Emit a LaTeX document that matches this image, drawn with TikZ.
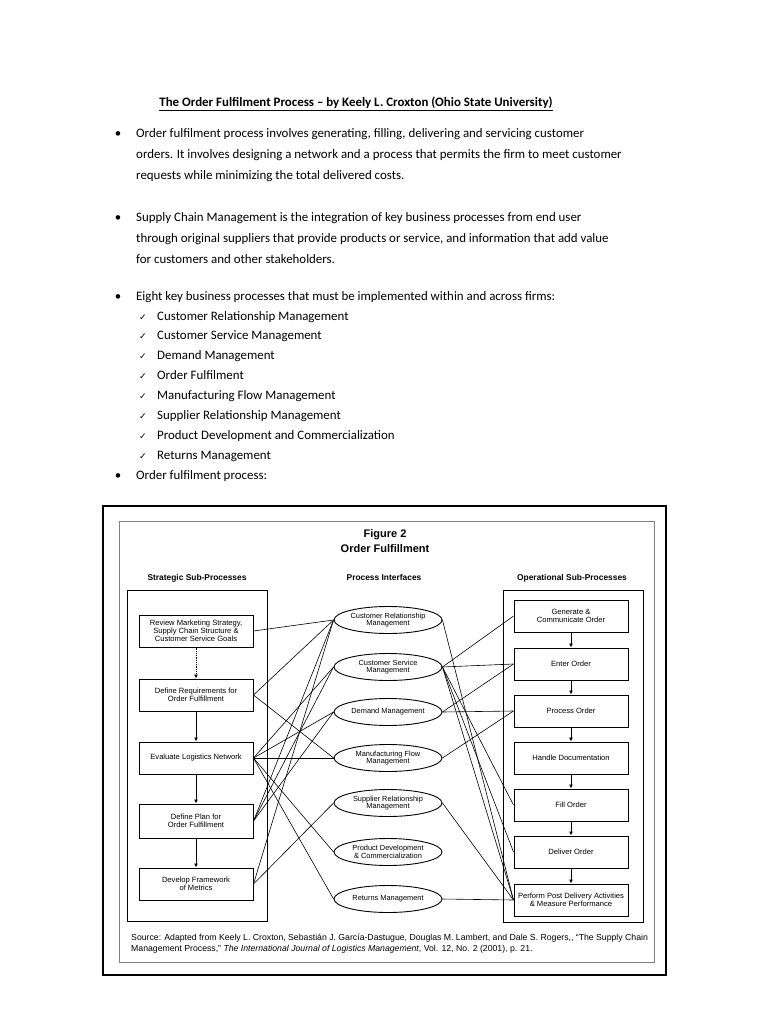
\documentclass[tikz,border=0pt]{standalone}
\usepackage{fontspec}
\setmainfont{Carlito}
\newfontfamily\figfont{Liberation Sans}
\newfontfamily\symfont{DejaVu Sans}
\usetikzlibrary{arrows.meta,shapes.geometric}
\begin{document}
\begin{tikzpicture}[x=1pt,y=-1pt,
  body/.style={anchor=base west,inner sep=0pt,font=\fontsize{12.9}{15}\selectfont},
  bul/.style={anchor=base,inner sep=0pt,font=\fontsize{12.9}{15}\selectfont},
  chk/.style={anchor=base,inner sep=0pt,font=\symfont\fontsize{9}{10}\selectfont},
  sbox/.style={draw,line width=1pt,minimum width=114pt,minimum height=32pt,inner sep=1pt,align=center,font=\figfont\fontsize{7.6}{8}\selectfont},
  ell/.style={draw,ellipse,line width=0.9pt,minimum width=108pt,minimum height=27pt,inner sep=0pt,align=center,font=\figfont\fontsize{7.4}{7.8}\selectfont},
  cont/.style={draw,line width=0.9pt},
  hdr/.style={anchor=base,inner sep=0pt,font=\figfont\bfseries\fontsize{8.4}{9}\selectfont},
  link/.style={line width=0.6pt},
  flow/.style={line width=0.8pt,-{Latex[length=4pt,width=4pt]}},
]
\useasboundingbox (0,0) rectangle (768,1024);
% ---------- text ----------
\node[anchor=base,inner sep=0pt,font=\bfseries\fontsize{12.9}{15}\selectfont] (title) at (356,107) {\underline{The Order Fulfilment Process -- by Keely L. Croxton (Ohio State University)}};
\node[bul] (b1) at (118,138) {•};
\node[body] (t11) at (136,138) {Order fulfilment process involves generating, filling, delivering and servicing customer};
\node[body] (t12) at (136,159) {orders. It involves designing a network and a process that permits the firm to meet customer};
\node[body] (t13) at (136,180) {requests while minimizing the total delivered costs.};
\node[bul] (b2) at (118,221.5) {•};
\node[body] (t21) at (136,221.5) {Supply Chain Management is the integration of key business processes from end user};
\node[body] (t22) at (136,242.3) {through original suppliers that provide products or service, and information that add value};
\node[body] (t23) at (136,263) {for customers and other stakeholders.};
\node[bul] (b3) at (118,300.5) {•};
\node[body] (t31) at (136,300.5) {Eight key business processes that must be implemented within and across firms:};
\foreach \i/\t in {0/Customer Relationship Management,1/Customer Service Management,2/Demand Management,3/Order Fulfilment,4/Manufacturing Flow Management,5/Supplier Relationship Management,6/Product Development and Commercialization,7/Returns Management}{
  \node[chk] (c\i) at (143,320+19.9*\i) {✓};
  \node[body] (k\i) at (157,320+19.9*\i) {\t};
}
\node[bul] (b4) at (118,479) {•};
\node[body] (t41) at (136,479) {Order fulfilment process:};
% ---------- frames ----------
\draw[line width=2pt] (103,506) rectangle (666,975);
\draw[line width=0.7pt,gray] (119,521) rectangle (654,962);
\node[anchor=base,inner sep=0pt,font=\figfont\bfseries\fontsize{11}{12}\selectfont] (fig) at (385,537) {Figure 2};
\node[anchor=base,inner sep=0pt,font=\figfont\bfseries\fontsize{11}{12}\selectfont] (figt) at (385,552) {Order Fulfillment};
\node[hdr] (h1) at (197,580) {Strategic Sub-Processes};
\node[hdr] (h2) at (384,580) {Process Interfaces};
\node[hdr] (h3) at (572,580) {Operational Sub-Processes};
\draw[cont] (127,590) rectangle (267,921);
\draw[cont] (503,590) rectangle (643,922);
% ---------- left boxes ----------
\node[sbox] (L1) at (196,631) {Review Marketing Strategy,\\Supply Chain Structure \&\\Customer Service Goals};
\node[sbox] (L2) at (196,695) {Define Requirements for\\Order Fulfillment};
\node[sbox] (L3) at (196,758) {Evaluate Logistics Network};
\node[sbox,minimum height=34pt] (L4) at (196,821) {Define Plan for\\Order Fulfillment};
\node[sbox] (L5) at (196,884) {Develop Framework\\of Metrics};
% ---------- right boxes ----------
\node[sbox] (R1) at (571,616) {Generate \&\\Communicate Order};
\node[sbox] (R2) at (571,664) {Enter Order};
\node[sbox] (R3) at (571,711) {Process Order};
\node[sbox] (R4) at (571,758) {Handle Documentation};
\node[sbox] (R5) at (571,805) {Fill Order};
\node[sbox] (R6) at (571,852) {Deliver Order};
\node[sbox] (R7) at (571,900) {Perform Post Delivery Activities\\\& Measure Performance};
% ---------- ellipses ----------
\node[ell] (E1) at (388,620) {Customer Relationship\\Management};
\node[ell] (E2) at (388,667) {Customer Service\\Management};
\node[ell] (E3) at (388,712) {Demand Management};
\node[ell] (E4) at (388,758) {Manufacturing Flow\\Management};
\node[ell] (E5) at (388,803) {Supplier Relationship\\Management};
\node[ell] (E6) at (388,852) {Product Development\\\& Commercialization};
\node[ell] (E7) at (388,899) {Returns Management};
% ---------- flows ----------
\draw[flow,densely dotted] (L1) -- (L2);
\draw[flow] (L2) -- (L3);
\draw[flow] (L3) -- (L4);
\draw[flow] (L4) -- (L5);
\foreach \a/\b in {R1/R2,R2/R3,R3/R4,R4/R5,R5/R6,R6/R7}{\draw[flow] (\a) -- (\b);}
% ---------- links left ----------
\draw[link] (L1.east) -- (E1.west);
\draw[link] (L2.east) -- (E1.west);
\draw[link] (L2.east) -- (E4.west);
\draw[link] (L3.east) -- (E2.west);
\draw[link] (L3.east) -- (E3.west);
\draw[link] (L3.east) -- (E4.west);
\draw[link] (L3.east) -- (E6.west);
\draw[link] (L3.east) -- (E7.west);
\draw[link] (L4.east) -- (E1.west);
\draw[link] (L4.east) -- (E2.west);
\draw[link] (L4.east) -- (E3.west);
\draw[link] (L5.east) -- (E1.west);
\draw[link] (L5.east) -- (E5.west);
% ---------- links right ----------
\draw[link] (E1.east) -- (R7.west);
\draw[link] (E2.east) -- (R1.west);
\draw[link] (E2.east) -- (R2.west);
\draw[link] (E2.east) -- (R5.west);
\draw[link] (E2.east) -- (R6.west);
\draw[link] (E2.east) -- (R7.west);
\draw[link] (E3.east) -- (R2.west);
\draw[link] (E3.east) -- (R3.west);
\draw[link] (E4.east) -- (R3.west);
\draw[link] (E5.east) -- (R7.west);
\draw[link] (E7.east) -- (R7.west);
% ---------- source ----------
\node[anchor=base west,inner sep=0pt,font=\figfont\fontsize{8.7}{9}\selectfont] (src1) at (131,940) {Source: Adapted from Keely L. Croxton, Sebastián J. García-Dastugue, Douglas M. Lambert, and Dale S. Rogers,, “The Supply Chain};
\node[anchor=base west,inner sep=0pt,font=\figfont\fontsize{8.7}{9}\selectfont] (src2) at (131,951.5) {Management Process,” \textit{The International Journal of Logistics Management}, Vol. 12, No. 2 (2001), p. 21.};
\end{tikzpicture}
\end{document}
